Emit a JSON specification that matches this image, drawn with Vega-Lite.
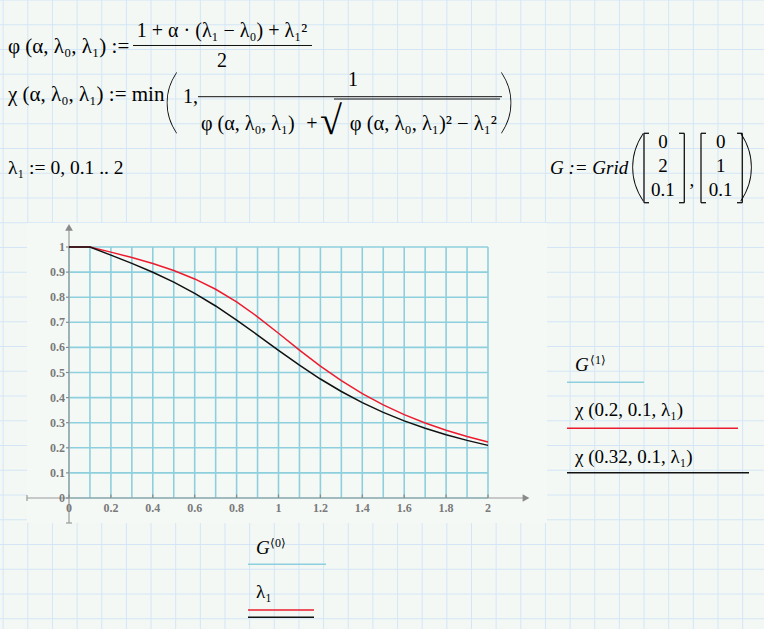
{
  "$schema": "https://vega.github.io/schema/vega-lite/v6.json",
  "width": 419,
  "height": 251,
  "autosize": "none",
  "padding": {"left": 69, "top": 247, "right": 276, "bottom": 131},
  "background": "#f3f8f5",
  "config": {"view": {"stroke": null}, "font": "Liberation Serif", "axis": {"disable": true}},
  "data": {"values": [{}]},
  "datasets": {
    "pageCols": [
      {"k": 0}, {"k": 1}, {"k": 2}, {"k": 3}, {"k": 4}, {"k": 5}, {"k": 6}, {"k": 7},
      {"k": 8}, {"k": 9}, {"k": 10}, {"k": 11}, {"k": 12}, {"k": 13}, {"k": 14}, {"k": 15},
      {"k": 16}, {"k": 17}, {"k": 18}, {"k": 19}, {"k": 20}, {"k": 21}, {"k": 22}, {"k": 23},
      {"k": 24}, {"k": 25}, {"k": 26}, {"k": 27}, {"k": 28}, {"k": 29}, {"k": 30}, {"k": 31}
    ],
    "pageRows": [
      {"m": 0}, {"m": 1}, {"m": 2}, {"m": 3}, {"m": 4}, {"m": 5}, {"m": 6}, {"m": 7},
      {"m": 8}, {"m": 9}, {"m": 10}, {"m": 11}, {"m": 12}, {"m": 13}, {"m": 14}, {"m": 15},
      {"m": 16}, {"m": 17}, {"m": 18}, {"m": 19}, {"m": 20}, {"m": 21}, {"m": 22}, {"m": 23},
      {"m": 24}, {"m": 25}
    ],
    "gridV": [
      {"x": 0}, {"x": 0.1}, {"x": 0.2}, {"x": 0.3}, {"x": 0.4}, {"x": 0.5}, {"x": 0.6},
      {"x": 0.7}, {"x": 0.8}, {"x": 0.9}, {"x": 1}, {"x": 1.1}, {"x": 1.2}, {"x": 1.3},
      {"x": 1.4}, {"x": 1.5}, {"x": 1.6}, {"x": 1.7}, {"x": 1.8}, {"x": 1.9}, {"x": 2}
    ],
    "gridH": [
      {"y": 0}, {"y": 0.1}, {"y": 0.2}, {"y": 0.3}, {"y": 0.4}, {"y": 0.5},
      {"y": 0.6}, {"y": 0.7}, {"y": 0.8}, {"y": 0.9}, {"y": 1}
    ],
    "xTicks": [
      {"v": 0}, {"v": 0.2}, {"v": 0.4}, {"v": 0.6}, {"v": 0.8}, {"v": 1},
      {"v": 1.2}, {"v": 1.4}, {"v": 1.6}, {"v": 1.8}, {"v": 2}
    ],
    "curves": [
      {"lambda": 0, "alpha": 0.2, "chi": 1},
      {"lambda": 0.1, "alpha": 0.2, "chi": 1},
      {"lambda": 0.2, "alpha": 0.2, "chi": 0.9796},
      {"lambda": 0.3, "alpha": 0.2, "chi": 0.9581},
      {"lambda": 0.4, "alpha": 0.2, "chi": 0.9341},
      {"lambda": 0.5, "alpha": 0.2, "chi": 0.9063},
      {"lambda": 0.6, "alpha": 0.2, "chi": 0.8727},
      {"lambda": 0.7, "alpha": 0.2, "chi": 0.8316},
      {"lambda": 0.8, "alpha": 0.2, "chi": 0.7813},
      {"lambda": 0.9, "alpha": 0.2, "chi": 0.7219},
      {"lambda": 1, "alpha": 0.2, "chi": 0.6563},
      {"lambda": 1.1, "alpha": 0.2, "chi": 0.5893},
      {"lambda": 1.2, "alpha": 0.2, "chi": 0.5254},
      {"lambda": 1.3, "alpha": 0.2, "chi": 0.4672},
      {"lambda": 1.4, "alpha": 0.2, "chi": 0.4158},
      {"lambda": 1.5, "alpha": 0.2, "chi": 0.371},
      {"lambda": 1.6, "alpha": 0.2, "chi": 0.3323},
      {"lambda": 1.7, "alpha": 0.2, "chi": 0.2988},
      {"lambda": 1.8, "alpha": 0.2, "chi": 0.2699},
      {"lambda": 1.9, "alpha": 0.2, "chi": 0.2447},
      {"lambda": 2, "alpha": 0.2, "chi": 0.2228},
      {"lambda": 0, "alpha": 0.32, "chi": 1},
      {"lambda": 0.1, "alpha": 0.32, "chi": 1},
      {"lambda": 0.2, "alpha": 0.32, "chi": 0.9678},
      {"lambda": 0.3, "alpha": 0.32, "chi": 0.9347},
      {"lambda": 0.4, "alpha": 0.32, "chi": 0.8992},
      {"lambda": 0.5, "alpha": 0.32, "chi": 0.8598},
      {"lambda": 0.6, "alpha": 0.32, "chi": 0.8153},
      {"lambda": 0.7, "alpha": 0.32, "chi": 0.765},
      {"lambda": 0.8, "alpha": 0.32, "chi": 0.7091},
      {"lambda": 0.9, "alpha": 0.32, "chi": 0.6493},
      {"lambda": 1, "alpha": 0.32, "chi": 0.5884},
      {"lambda": 1.1, "alpha": 0.32, "chi": 0.5292},
      {"lambda": 1.2, "alpha": 0.32, "chi": 0.4741},
      {"lambda": 1.3, "alpha": 0.32, "chi": 0.4243},
      {"lambda": 1.4, "alpha": 0.32, "chi": 0.3801},
      {"lambda": 1.5, "alpha": 0.32, "chi": 0.3413},
      {"lambda": 1.6, "alpha": 0.32, "chi": 0.3074},
      {"lambda": 1.7, "alpha": 0.32, "chi": 0.2779},
      {"lambda": 1.8, "alpha": 0.32, "chi": 0.2521},
      {"lambda": 1.9, "alpha": 0.32, "chi": 0.2295},
      {"lambda": 2, "alpha": 0.32, "chi": 0.2097}
    ]
  },
  "resolve": {"scale": {"x": "independent", "y": "independent"}},
  "layer": [
    {
      "layer": [
        {
          "data": {"name": "pageCols"},
          "mark": {"type": "rule", "color": "#d4e6f6", "strokeWidth": 1},
          "encoding": {
            "x": {"field": "k", "type": "quantitative", "scale": {"domain": [2.6714, 19.6694], "nice": false, "zero": false}},
            "y": {"datum": -1, "scale": {"domain": [9.9798, 20.1212], "reverse": true, "nice": false, "zero": false}},
            "y2": {"datum": 27}
          }
        },
        {
          "data": {"name": "pageRows"},
          "mark": {"type": "rule", "color": "#d4e6f6", "strokeWidth": 1},
          "encoding": {
            "y": {"field": "m", "type": "quantitative"},
            "x": {"datum": -1},
            "x2": {"datum": 33}
          }
        }
      ]
    },
    {
      "layer": [
        {
          "mark": {"type": "rect", "color": "#f5f9f6"},
          "encoding": {
            "x": {"datum": -0.2005, "scale": {"domain": [0, 2], "nice": false, "zero": false}},
            "x2": {"datum": 2.2816},
            "y": {"datum": -0.0996, "scale": {"domain": [0, 1], "nice": false, "zero": false}},
            "y2": {"datum": 1.0956}
          }
        },
        {
          "data": {"name": "gridV"},
          "mark": {"type": "rule", "color": "#8ecfdd", "strokeWidth": 1.6},
          "encoding": {
            "x": {"field": "x", "type": "quantitative"},
            "y": {"datum": 0},
            "y2": {"datum": 1}
          }
        },
        {
          "data": {"name": "gridH"},
          "mark": {"type": "rule", "color": "#8ecfdd", "strokeWidth": 1.6},
          "encoding": {
            "y": {"field": "y", "type": "quantitative"},
            "x": {"datum": 0},
            "x2": {"datum": 2}
          }
        },
        {
          "mark": {"type": "rule", "color": "#9a9a9a", "strokeWidth": 1.2},
          "encoding": {"x": {"datum": -0.2005}, "x2": {"datum": 2.18}, "y": {"datum": 0}}
        },
        {
          "mark": {"type": "rule", "color": "#9a9a9a", "strokeWidth": 1.2},
          "encoding": {"x": {"datum": 0}, "y": {"datum": -0.0996}, "y2": {"datum": 1.078}}
        },
        {
          "mark": {"type": "rule", "color": "#9a9a9a", "strokeWidth": 1.2},
          "encoding": {"x": {"datum": -0.2005}, "y": {"datum": -0.012}, "y2": {"datum": 0.012}}
        },
        {
          "mark": {"type": "rule", "color": "#9a9a9a", "strokeWidth": 1.2},
          "encoding": {"y": {"datum": -0.0996}, "x": {"datum": -0.0143}, "x2": {"datum": 0.0143}}
        },
        {
          "data": {"name": "xTicks"},
          "mark": {"type": "rule", "color": "#8a8a8a", "strokeWidth": 1.2},
          "encoding": {"x": {"field": "v", "type": "quantitative"}, "y": {"datum": 0}, "y2": {"datum": 0.014}}
        },
        {
          "data": {"name": "gridH"},
          "mark": {"type": "rule", "color": "#8a8a8a", "strokeWidth": 1.2},
          "encoding": {"y": {"field": "y", "type": "quantitative"}, "x": {"datum": -0.0143}, "x2": {"datum": 0}}
        },
        {
          "data": {"name": "xTicks"},
          "mark": {"type": "text", "align": "center", "baseline": "middle", "fontSize": 12, "fontWeight": "bold", "color": "#7a7a7a"},
          "encoding": {"x": {"field": "v", "type": "quantitative"}, "y": {"datum": -0.0398}, "text": {"field": "v", "type": "quantitative", "format": "~g"}}
        },
        {
          "data": {"name": "gridH"},
          "mark": {"type": "text", "align": "right", "baseline": "middle", "fontSize": 12, "fontWeight": "bold", "color": "#7a7a7a"},
          "encoding": {"y": {"field": "y", "type": "quantitative"}, "x": {"datum": -0.0191}, "text": {"field": "y", "type": "quantitative", "format": "~g"}}
        },
        {
          "mark": {"type": "point", "shape": "triangle-right", "filled": true, "color": "#8a8a8a", "size": 60, "opacity": 1},
          "encoding": {"x": {"datum": 2.1814}, "y": {"datum": 0}}
        },
        {
          "mark": {"type": "point", "shape": "triangle-up", "filled": true, "color": "#8a8a8a", "size": 60, "opacity": 1},
          "encoding": {"x": {"datum": 0}, "y": {"datum": 1.0785}}
        },
        {
          "data": {"name": "curves"},
          "mark": {"type": "line", "strokeWidth": 1.5},
          "encoding": {
            "x": {"field": "lambda", "type": "quantitative"},
            "y": {"field": "chi", "type": "quantitative"},
            "color": {"field": "alpha", "type": "nominal", "scale": {"domain": [0.2, 0.32], "range": ["#ec1c2e", "#111111"]}, "legend": null}
          }
        },
        {
          "mark": {"type": "text", "align": "left", "baseline": "middle", "fontSize": 21},
          "encoding": {"x": {"datum": -0.2912}, "y": {"datum": 1.7968}, "text": {"value": "φ (α, λ₀, λ₁) :="}}
        },
        {
          "mark": {"type": "text", "align": "center", "baseline": "middle", "fontSize": 20},
          "encoding": {"x": {"datum": 0.7303}, "y": {"datum": 1.8606}, "text": {"value": "1 + α · (λ₁ − λ₀) + λ₁²"}}
        },
        {
          "mark": {"type": "rule", "color": "#111111", "strokeWidth": 1},
          "encoding": {"x": {"datum": 0.3055}, "x2": {"datum": 1.1599}, "y": {"datum": 1.8028}}
        },
        {
          "mark": {"type": "text", "align": "center", "baseline": "middle", "fontSize": 20},
          "encoding": {"x": {"datum": 0.7303}, "y": {"datum": 1.741}, "text": {"value": "2"}}
        },
        {
          "mark": {"type": "text", "align": "left", "baseline": "middle", "fontSize": 21},
          "encoding": {"x": {"datum": -0.2912}, "y": {"datum": 1.6056}, "text": {"value": "χ (α, λ₀, λ₁) := min"}}
        },
        {
          "mark": {"type": "text", "align": "center", "baseline": "middle", "fontSize": 70, "font": "Lato", "fontWeight": 100},
          "encoding": {"x": {"datum": 0.4869}, "y": {"datum": 1.5697}, "text": {"value": "("}}
        },
        {
          "mark": {"type": "text", "align": "left", "baseline": "middle", "fontSize": 20},
          "encoding": {"x": {"datum": 0.5442}, "y": {"datum": 1.5976}, "text": {"value": "1,"}}
        },
        {
          "mark": {"type": "rule", "color": "#111111", "strokeWidth": 1},
          "encoding": {"x": {"datum": 0.6158}, "x2": {"datum": 2.0668}, "y": {"datum": 1.5988}}
        },
        {
          "mark": {"type": "text", "align": "center", "baseline": "middle", "fontSize": 20},
          "encoding": {"x": {"datum": 1.3556}, "y": {"datum": 1.6653}, "text": {"value": "1"}}
        },
        {
          "mark": {"type": "text", "align": "left", "baseline": "middle", "fontSize": 20},
          "encoding": {"x": {"datum": 0.6301}, "y": {"datum": 1.49}, "text": {"value": "φ (α, λ₀, λ₁)"}}
        },
        {
          "mark": {"type": "text", "align": "center", "baseline": "middle", "fontSize": 20},
          "encoding": {"x": {"datum": 1.1599}, "y": {"datum": 1.49}, "text": {"value": "+"}}
        },
        {
          "mark": {"type": "text", "align": "left", "baseline": "middle", "fontSize": 40},
          "encoding": {"x": {"datum": 1.1981}, "y": {"datum": 1.5}, "text": {"value": "√"}}
        },
        {
          "mark": {"type": "rule", "color": "#111111", "strokeWidth": 1},
          "encoding": {"x": {"datum": 1.2649}, "x2": {"datum": 2.0573}, "y": {"datum": 1.5896}}
        },
        {
          "mark": {"type": "text", "align": "right", "baseline": "middle", "fontSize": 20.5},
          "encoding": {"x": {"datum": 2.043}, "y": {"datum": 1.49}, "text": {"value": "φ (α, λ₀, λ₁)² − λ₁²"}}
        },
        {
          "mark": {"type": "text", "align": "center", "baseline": "middle", "fontSize": 70, "font": "Lato", "fontWeight": 100},
          "encoding": {"x": {"datum": 2.0907}, "y": {"datum": 1.5697}, "text": {"value": ")"}}
        },
        {
          "mark": {"type": "text", "align": "left", "baseline": "middle", "fontSize": 19.5},
          "encoding": {"x": {"datum": -0.2912}, "y": {"datum": 1.3147}, "text": {"value": "λ₁ := 0, 0.1 .. 2"}}
        },
        {
          "mark": {"type": "text", "align": "left", "baseline": "middle", "fontSize": 19, "fontStyle": "italic"},
          "encoding": {"x": {"datum": 2.2959}, "y": {"datum": 1.3147}, "text": {"value": "G := Grid"}}
        },
        {
          "mark": {"type": "text", "align": "center", "baseline": "middle", "fontSize": 78, "font": "Lato", "fontWeight": 100},
          "encoding": {"x": {"datum": 2.7112}, "y": {"datum": 1.3107}, "text": {"value": "("}}
        },
        {
          "mark": {"type": "rule", "color": "#111111", "strokeWidth": 1.3},
          "encoding": {"x": {"datum": 2.7446}, "y": {"datum": 1.1765}, "y2": {"datum": 1.453}}
        },
        {
          "mark": {"type": "rule", "color": "#111111", "strokeWidth": 1.3},
          "encoding": {"x": {"datum": 2.7446}, "x2": {"datum": 2.7685}, "y": {"datum": 1.453}}
        },
        {
          "mark": {"type": "rule", "color": "#111111", "strokeWidth": 1.3},
          "encoding": {"x": {"datum": 2.7446}, "x2": {"datum": 2.7685}, "y": {"datum": 1.1765}}
        },
        {
          "mark": {"type": "text", "align": "center", "baseline": "middle", "fontSize": 19, "lineHeight": 24},
          "encoding": {"x": {"datum": 2.8353}, "y": {"datum": 1.4183}, "text": {"value": ["0", "2", "0.1"]}}
        },
        {
          "mark": {"type": "rule", "color": "#111111", "strokeWidth": 1.3},
          "encoding": {"x": {"datum": 2.937}, "y": {"datum": 1.1765}, "y2": {"datum": 1.453}}
        },
        {
          "mark": {"type": "rule", "color": "#111111", "strokeWidth": 1.3},
          "encoding": {"x": {"datum": 2.9117}, "x2": {"datum": 2.937}, "y": {"datum": 1.453}}
        },
        {
          "mark": {"type": "rule", "color": "#111111", "strokeWidth": 1.3},
          "encoding": {"x": {"datum": 2.9117}, "x2": {"datum": 2.937}, "y": {"datum": 1.1765}}
        },
        {
          "mark": {"type": "text", "align": "center", "baseline": "middle", "fontSize": 19},
          "encoding": {"x": {"datum": 2.9737}, "y": {"datum": 1.2669}, "text": {"value": ","}}
        },
        {
          "mark": {"type": "rule", "color": "#111111", "strokeWidth": 1.3},
          "encoding": {"x": {"datum": 3.0167}, "y": {"datum": 1.1765}, "y2": {"datum": 1.453}}
        },
        {
          "mark": {"type": "rule", "color": "#111111", "strokeWidth": 1.3},
          "encoding": {"x": {"datum": 3.0167}, "x2": {"datum": 3.0406}, "y": {"datum": 1.453}}
        },
        {
          "mark": {"type": "rule", "color": "#111111", "strokeWidth": 1.3},
          "encoding": {"x": {"datum": 3.0167}, "x2": {"datum": 3.0406}, "y": {"datum": 1.1765}}
        },
        {
          "mark": {"type": "text", "align": "center", "baseline": "middle", "fontSize": 19, "lineHeight": 24},
          "encoding": {"x": {"datum": 3.1107}, "y": {"datum": 1.4183}, "text": {"value": ["0", "1", "0.1"]}}
        },
        {
          "mark": {"type": "rule", "color": "#111111", "strokeWidth": 1.3},
          "encoding": {"x": {"datum": 3.2138}, "y": {"datum": 1.1765}, "y2": {"datum": 1.453}}
        },
        {
          "mark": {"type": "rule", "color": "#111111", "strokeWidth": 1.3},
          "encoding": {"x": {"datum": 3.1885}, "x2": {"datum": 3.2138}, "y": {"datum": 1.453}}
        },
        {
          "mark": {"type": "rule", "color": "#111111", "strokeWidth": 1.3},
          "encoding": {"x": {"datum": 3.1885}, "x2": {"datum": 3.2138}, "y": {"datum": 1.1765}}
        },
        {
          "mark": {"type": "text", "align": "center", "baseline": "middle", "fontSize": 78, "font": "Lato", "fontWeight": 100},
          "encoding": {"x": {"datum": 3.2363}, "y": {"datum": 1.3107}, "text": {"value": ")"}}
        },
        {
          "mark": {"type": "text", "align": "left", "baseline": "middle", "fontSize": 19, "fontStyle": "italic"},
          "encoding": {"x": {"datum": 2.4153}, "y": {"datum": 0.5299}, "text": {"value": "G"}}
        },
        {
          "mark": {"type": "text", "align": "left", "baseline": "middle", "fontSize": 12},
          "encoding": {"x": {"datum": 2.4869}, "y": {"datum": 0.5498}, "text": {"value": "⟨1⟩"}}
        },
        {
          "mark": {"type": "rule", "color": "#8ecfdd", "strokeWidth": 1.6},
          "encoding": {"x": {"datum": 2.3771}, "x2": {"datum": 2.7446}, "y": {"datum": 0.461}}
        },
        {
          "mark": {"type": "text", "align": "left", "baseline": "middle", "fontSize": 19},
          "encoding": {"x": {"datum": 2.4153}, "y": {"datum": 0.3506}, "text": {"value": "χ (0.2, 0.1, λ₁)"}}
        },
        {
          "mark": {"type": "rule", "color": "#ec1c2e", "strokeWidth": 1.6},
          "encoding": {"x": {"datum": 2.3771}, "x2": {"datum": 3.1933}, "y": {"datum": 0.2777}}
        },
        {
          "mark": {"type": "text", "align": "left", "baseline": "middle", "fontSize": 19},
          "encoding": {"x": {"datum": 2.4153}, "y": {"datum": 0.1645}, "text": {"value": "χ (0.32, 0.1, λ₁)"}}
        },
        {
          "mark": {"type": "rule", "color": "#111111", "strokeWidth": 1.6},
          "encoding": {"x": {"datum": 2.3771}, "x2": {"datum": 3.2458}, "y": {"datum": 0.1008}}
        },
        {
          "mark": {"type": "text", "align": "left", "baseline": "middle", "fontSize": 19, "fontStyle": "italic"},
          "encoding": {"x": {"datum": 0.8926}, "y": {"datum": -0.1992}, "text": {"value": "G"}}
        },
        {
          "mark": {"type": "text", "align": "left", "baseline": "middle", "fontSize": 12},
          "encoding": {"x": {"datum": 0.9594}, "y": {"datum": -0.1781}, "text": {"value": "⟨0⟩"}}
        },
        {
          "mark": {"type": "rule", "color": "#8ecfdd", "strokeWidth": 1.6},
          "encoding": {"x": {"datum": 0.8544}, "x2": {"datum": 1.2267}, "y": {"datum": -0.2641}}
        },
        {
          "mark": {"type": "text", "align": "left", "baseline": "middle", "fontSize": 19},
          "encoding": {"x": {"datum": 0.8926}, "y": {"datum": -0.3733}, "text": {"value": "λ₁"}}
        },
        {
          "mark": {"type": "rule", "color": "#ec1c2e", "strokeWidth": 1.6},
          "encoding": {"x": {"datum": 0.8544}, "x2": {"datum": 1.1695}, "y": {"datum": -0.4462}}
        },
        {
          "mark": {"type": "rule", "color": "#111111", "strokeWidth": 1.6},
          "encoding": {"x": {"datum": 0.8544}, "x2": {"datum": 1.1695}, "y": {"datum": -0.4753}}
        }
      ]
    }
  ]
}
